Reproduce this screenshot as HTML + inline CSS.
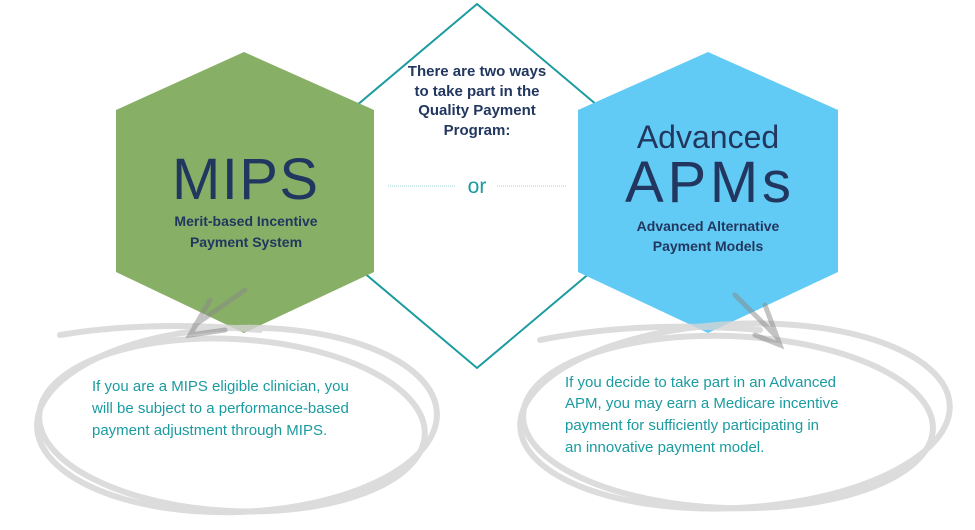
<!DOCTYPE html>
<html><head><meta charset="utf-8"><style>
html,body{margin:0;padding:0;background:#fff;width:975px;height:530px;overflow:hidden}
svg{display:block}
text{font-family:"Liberation Sans",sans-serif}
</style></head><body>
<svg width="975" height="530" viewBox="0 0 975 530">
<!-- diamond -->
<polygon points="477,4 693,186 477,368 261,186" fill="none" stroke="#1a9ba0" stroke-width="2"/>
<!-- hexagons -->
<polygon points="244,52 374,110 374,272 244,333 116,272 116,110" fill="#88af66"/>
<polygon points="708,52 838,110 838,272 708,333 578,272 578,110" fill="#62cbf5"/>
<!-- scribble circles -->
<g fill="none" stroke="#d4d4d4" stroke-width="6" opacity="0.8" stroke-linecap="round">
<ellipse cx="237" cy="420" rx="200" ry="92" transform="rotate(-2 237 420)"/>
<ellipse cx="232" cy="425" rx="193" ry="86" transform="rotate(3 232 425)"/>
<path d="M60 335 Q150 320 260 330"/>
<ellipse cx="735" cy="416" rx="215" ry="92" transform="rotate(-3 735 416)"/>
<ellipse cx="728" cy="422" rx="205" ry="86" transform="rotate(2 728 422)"/>
<path d="M540 340 Q640 320 760 330"/>
</g>
<g fill="none" stroke="#888" stroke-width="5" opacity="0.5" stroke-linecap="round">
<path d="M245 290 L195 325"/><path d="M210 300 L190 335 L225 330"/>
<path d="M735 295 L775 335"/><path d="M765 305 L780 345 L755 335"/>
</g>
<!-- center text -->
<g fill="#22375f" font-weight="bold" font-size="15" text-anchor="middle">
<text x="477" y="76">There are two ways</text>
<text x="477" y="96">to take part in the</text>
<text x="477" y="115">Quality Payment</text>
<text x="477" y="135">Program:</text>
</g>
<line x1="388" y1="186" x2="455" y2="186" stroke="#9fd4d6" stroke-width="1" stroke-dasharray="1,1"/>
<line x1="497" y1="186" x2="567" y2="186" stroke="#9fd4d6" stroke-width="1" stroke-dasharray="1,1"/>
<text x="477" y="193" fill="#1a9ba0" font-size="21" text-anchor="middle">or</text>
<!-- MIPS -->
<text x="245" y="199" fill="#22375f" font-size="58" text-anchor="middle" textLength="146">MIPS</text>
<g fill="#22375f" font-weight="bold" font-size="14" text-anchor="middle">
<text x="246" y="226">Merit-based Incentive</text>
<text x="246" y="247">Payment System</text>
</g>
<!-- APMs -->
<text x="708" y="148" fill="#22375f" font-size="32" text-anchor="middle">Advanced</text>
<text x="708" y="202" fill="#22375f" font-size="58" text-anchor="middle" textLength="166">APMs</text>
<g fill="#22375f" font-weight="bold" font-size="14" text-anchor="middle">
<text x="708" y="231">Advanced Alternative</text>
<text x="708" y="251">Payment Models</text>
</g>
<!-- bottom texts -->
<g fill="#1a9ba0" font-size="15">
<text x="92" y="391">If you are a MIPS eligible clinician, you</text>
<text x="92" y="413">will be subject to a performance-based</text>
<text x="92" y="435">payment adjustment through MIPS.</text>
<text x="565" y="387">If you decide to take part in an Advanced</text>
<text x="565" y="408">APM, you may earn a Medicare incentive</text>
<text x="565" y="430">payment for sufficiently participating in</text>
<text x="565" y="452">an innovative payment model.</text>
</g>
</svg>
</body></html>
